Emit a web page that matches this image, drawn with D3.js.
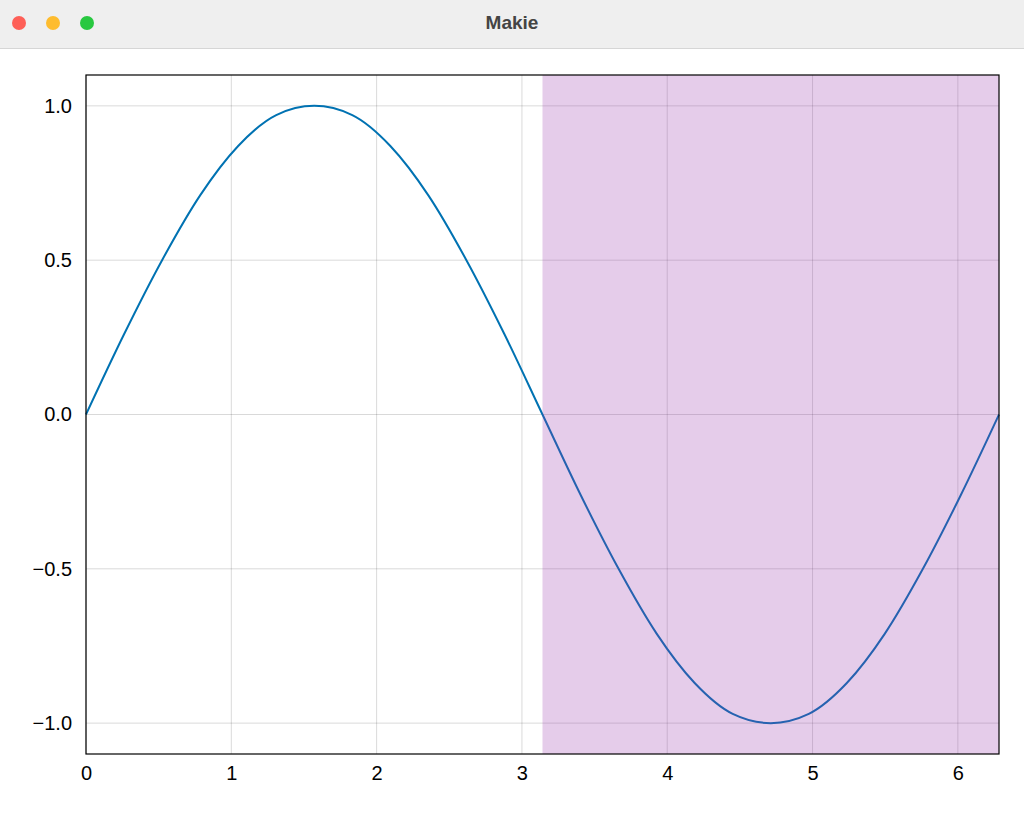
<!DOCTYPE html>
<html><head><meta charset="utf-8">
<script src="https://cdn.jsdelivr.net/npm/d3@7"></script>
<style>body{margin:0;background:#fff;font-family:"Liberation Sans",Arial,sans-serif}</style>
</head><body><div id="container"></div>
<script>
// curve samples, every pi/12
const xs = d3.range(25).map(i => i * Math.PI / 12);
const ys = [0, 0.26, 0.5, 0.71, 0.87, 0.97, 1, 0.97, 0.87, 0.71, 0.5, 0.26, 0,
  -0.26, -0.5, -0.71, -0.87, -0.97, -1, -0.97, -0.87, -0.71, -0.5, -0.26, 0];
const xTicks = [0, 1, 2, 3, 4, 5, 6];
const yTicks = [-1, -0.5, 0, 0.5, 1];
const band = [Math.PI, 2 * Math.PI];

const W = 1024, H = 814;
const m = {left: 86, right: 999, top: 75, bottom: 754};
const svg = d3.select("#container").append("svg").attr("width", W).attr("height", H);

// window title bar
svg.append("rect").attr("width", W).attr("height", 48).attr("fill", "#efefef");
svg.append("line").attr("x1", 0).attr("x2", W).attr("y1", 48.5).attr("y2", 48.5).attr("stroke", "#d6d6d6");
[["#fe5f57", 19], ["#febc2e", 53], ["#28c840", 87]].forEach(([c, x]) =>
  svg.append("circle").attr("cx", x).attr("cy", 23).attr("r", 7).attr("fill", c));
svg.append("text").attr("x", W / 2).attr("y", 29).attr("text-anchor", "middle")
  .attr("font-weight", "bold").attr("font-size", 19).attr("fill", "#444").text("Makie");

const x = d3.scaleLinear().domain([0, 2 * Math.PI]).range([m.left, m.right]);
const y = d3.scaleLinear().domain([-1.1, 1.1]).range([m.bottom, m.top]);

const g = svg.append("g");
g.selectAll(".gx").data(xTicks).join("line").attr("x1", d => x(d)).attr("x2", d => x(d))
  .attr("y1", m.top).attr("y2", m.bottom).attr("stroke", "rgba(0,0,0,0.15)");
g.selectAll(".gy").data(yTicks).join("line").attr("y1", d => y(d)).attr("y2", d => y(d))
  .attr("x1", m.left).attr("x2", m.right).attr("stroke", "rgba(0,0,0,0.15)");

g.append("path").datum(xs.map((v, i) => [v, ys[i]]))
  .attr("d", d3.line().x(d => x(d[0])).y(d => y(d[1])).curve(d3.curveMonotoneX))
  .attr("fill", "none").attr("stroke", "#0072b2").attr("stroke-width", 2);

g.append("rect").attr("x", x(band[0])).attr("width", x(band[1]) - x(band[0]))
  .attr("y", m.top).attr("height", m.bottom - m.top).attr("fill", "rgba(153,51,170,0.25)");

g.append("rect").attr("x", m.left).attr("y", m.top).attr("width", m.right - m.left)
  .attr("height", m.bottom - m.top).attr("fill", "none").attr("stroke", "#000").attr("stroke-width", 1.2);

const fmt = d => (d < 0 ? "\u2212" : "") + Math.abs(d).toFixed(1);
svg.append("g").attr("transform", `translate(0,${m.bottom})`)
  .call(d3.axisBottom(x).tickValues(xTicks).tickSize(0).tickPadding(12).tickFormat(d3.format("d")))
  .call(a => { a.select(".domain").remove(); a.selectAll("text").attr("font-size", 20).attr("dy", "0.71em").attr("fill", "#000"); });
svg.append("g").attr("transform", `translate(${m.left},0)`)
  .call(d3.axisLeft(y).tickValues(yTicks).tickSize(0).tickPadding(14).tickFormat(fmt))
  .call(a => { a.select(".domain").remove(); a.selectAll("text").attr("font-size", 20).attr("fill", "#000"); });
svg.selectAll(".tick text").attr("font-family", "'Liberation Sans',Arial,sans-serif");
</script></body></html>
